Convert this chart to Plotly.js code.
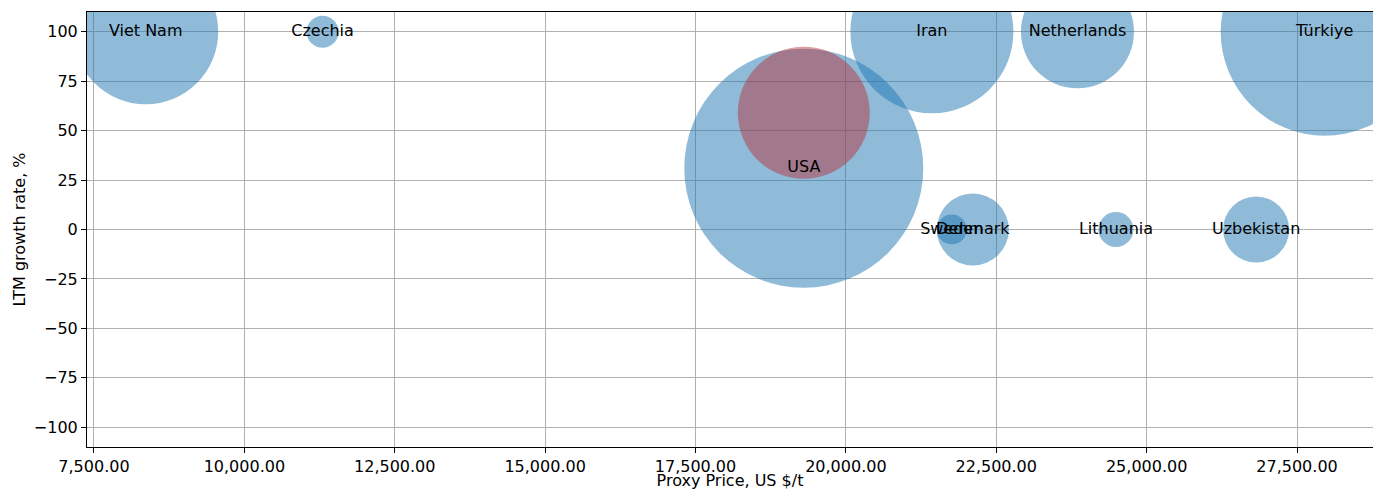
<!DOCTYPE html>
<html>
<head>
<meta charset="utf-8">
<script src="https://cdn.plot.ly/plotly-3.0.1.min.js"></script>
<style>html,body{margin:0;padding:0;background:#fff;}#chart{width:1373px;height:490px;}</style>
</head>
<body>
<div id="chart"></div>
<script>
// Data
const countries = ["Viet Nam", "Czechia", "USA", "Iran", "Netherlands", "Türkiye", "Sweden", "Denmark", "Lithuania", "Uzbekistan"];
const proxyPrice = [8360, 11300, 19300, 21430, 23850, 27960, 21760, 22110, 24490, 26820];
const growthRate = [100, 100, 31, 100, 100, 100, 0, 0, 0, 0];
const volume = [52560, 2560, 142800, 66420, 31920, 108160, 2250, 12960, 3060, 10890];

// highlighted (red) bubble
const hlPrice = [19300];
const hlGrowth = [59];
const hlVolume = [43560];

const font = "DejaVu Sans, sans-serif";

const traces = [
  {
    type: "scatter", mode: "markers",
    x: proxyPrice, y: growthRate,
    marker: {size: volume, sizemode: "area", sizeref: 5, color: "rgba(31,119,180,0.5)", opacity: 1, line: {width: 0}},
    hoverinfo: "skip", showlegend: false
  },
  {
    type: "scatter", mode: "markers",
    x: hlPrice, y: hlGrowth,
    marker: {size: hlVolume, sizemode: "area", sizeref: 5, color: "rgba(186,42,46,0.45)", opacity: 1, line: {width: 0}},
    hoverinfo: "skip", showlegend: false
  },
  {
    type: "scatter", mode: "text",
    x: proxyPrice, y: growthRate, text: countries,
    textposition: "middle center",
    textfont: {family: font, size: 16, color: "#000"},
    hoverinfo: "skip", showlegend: false, cliponaxis: false
  }
];

const layout = {
  width: 1373, height: 490,
  margin: {l: 87, r: 0, t: 12, b: 43},
  paper_bgcolor: "#fff", plot_bgcolor: "#fff",
  font: {family: font, size: 16, color: "#000"},
  showlegend: false,
  xaxis: {
    range: [7384, 28763],
    tick0: 0, dtick: 2500, tickformat: ",.2f",
    showgrid: true, gridcolor: "#b0b0b0", gridwidth: 1,
    zeroline: false,
    showline: true, linecolor: "#000", linewidth: 1, mirror: true,
    ticks: "outside", ticklen: 5, tickwidth: 1, tickcolor: "#000",
    tickfont: {family: font, size: 16, color: "#000"},
    title: {text: "Proxy Price, US $/t", font: {family: font, size: 16, color: "#000"}, standoff: 5},
    automargin: false
  },
  yaxis: {
    range: [-110, 110],
    tick0: 0, dtick: 25,
    showgrid: true, gridcolor: "#b0b0b0", gridwidth: 1,
    zeroline: false,
    showline: true, linecolor: "#000", linewidth: 1, mirror: true,
    ticks: "outside", ticklen: 5, tickwidth: 1, tickcolor: "#000",
    tickfont: {family: font, size: 16, color: "#000"},
    title: {text: "LTM growth rate, %", font: {family: font, size: 16, color: "#000"}, standoff: 4},
    automargin: false
  }
};

Plotly.newPlot("chart", traces, layout, {displayModeBar: false, staticPlot: true});
</script>
</body>
</html>
